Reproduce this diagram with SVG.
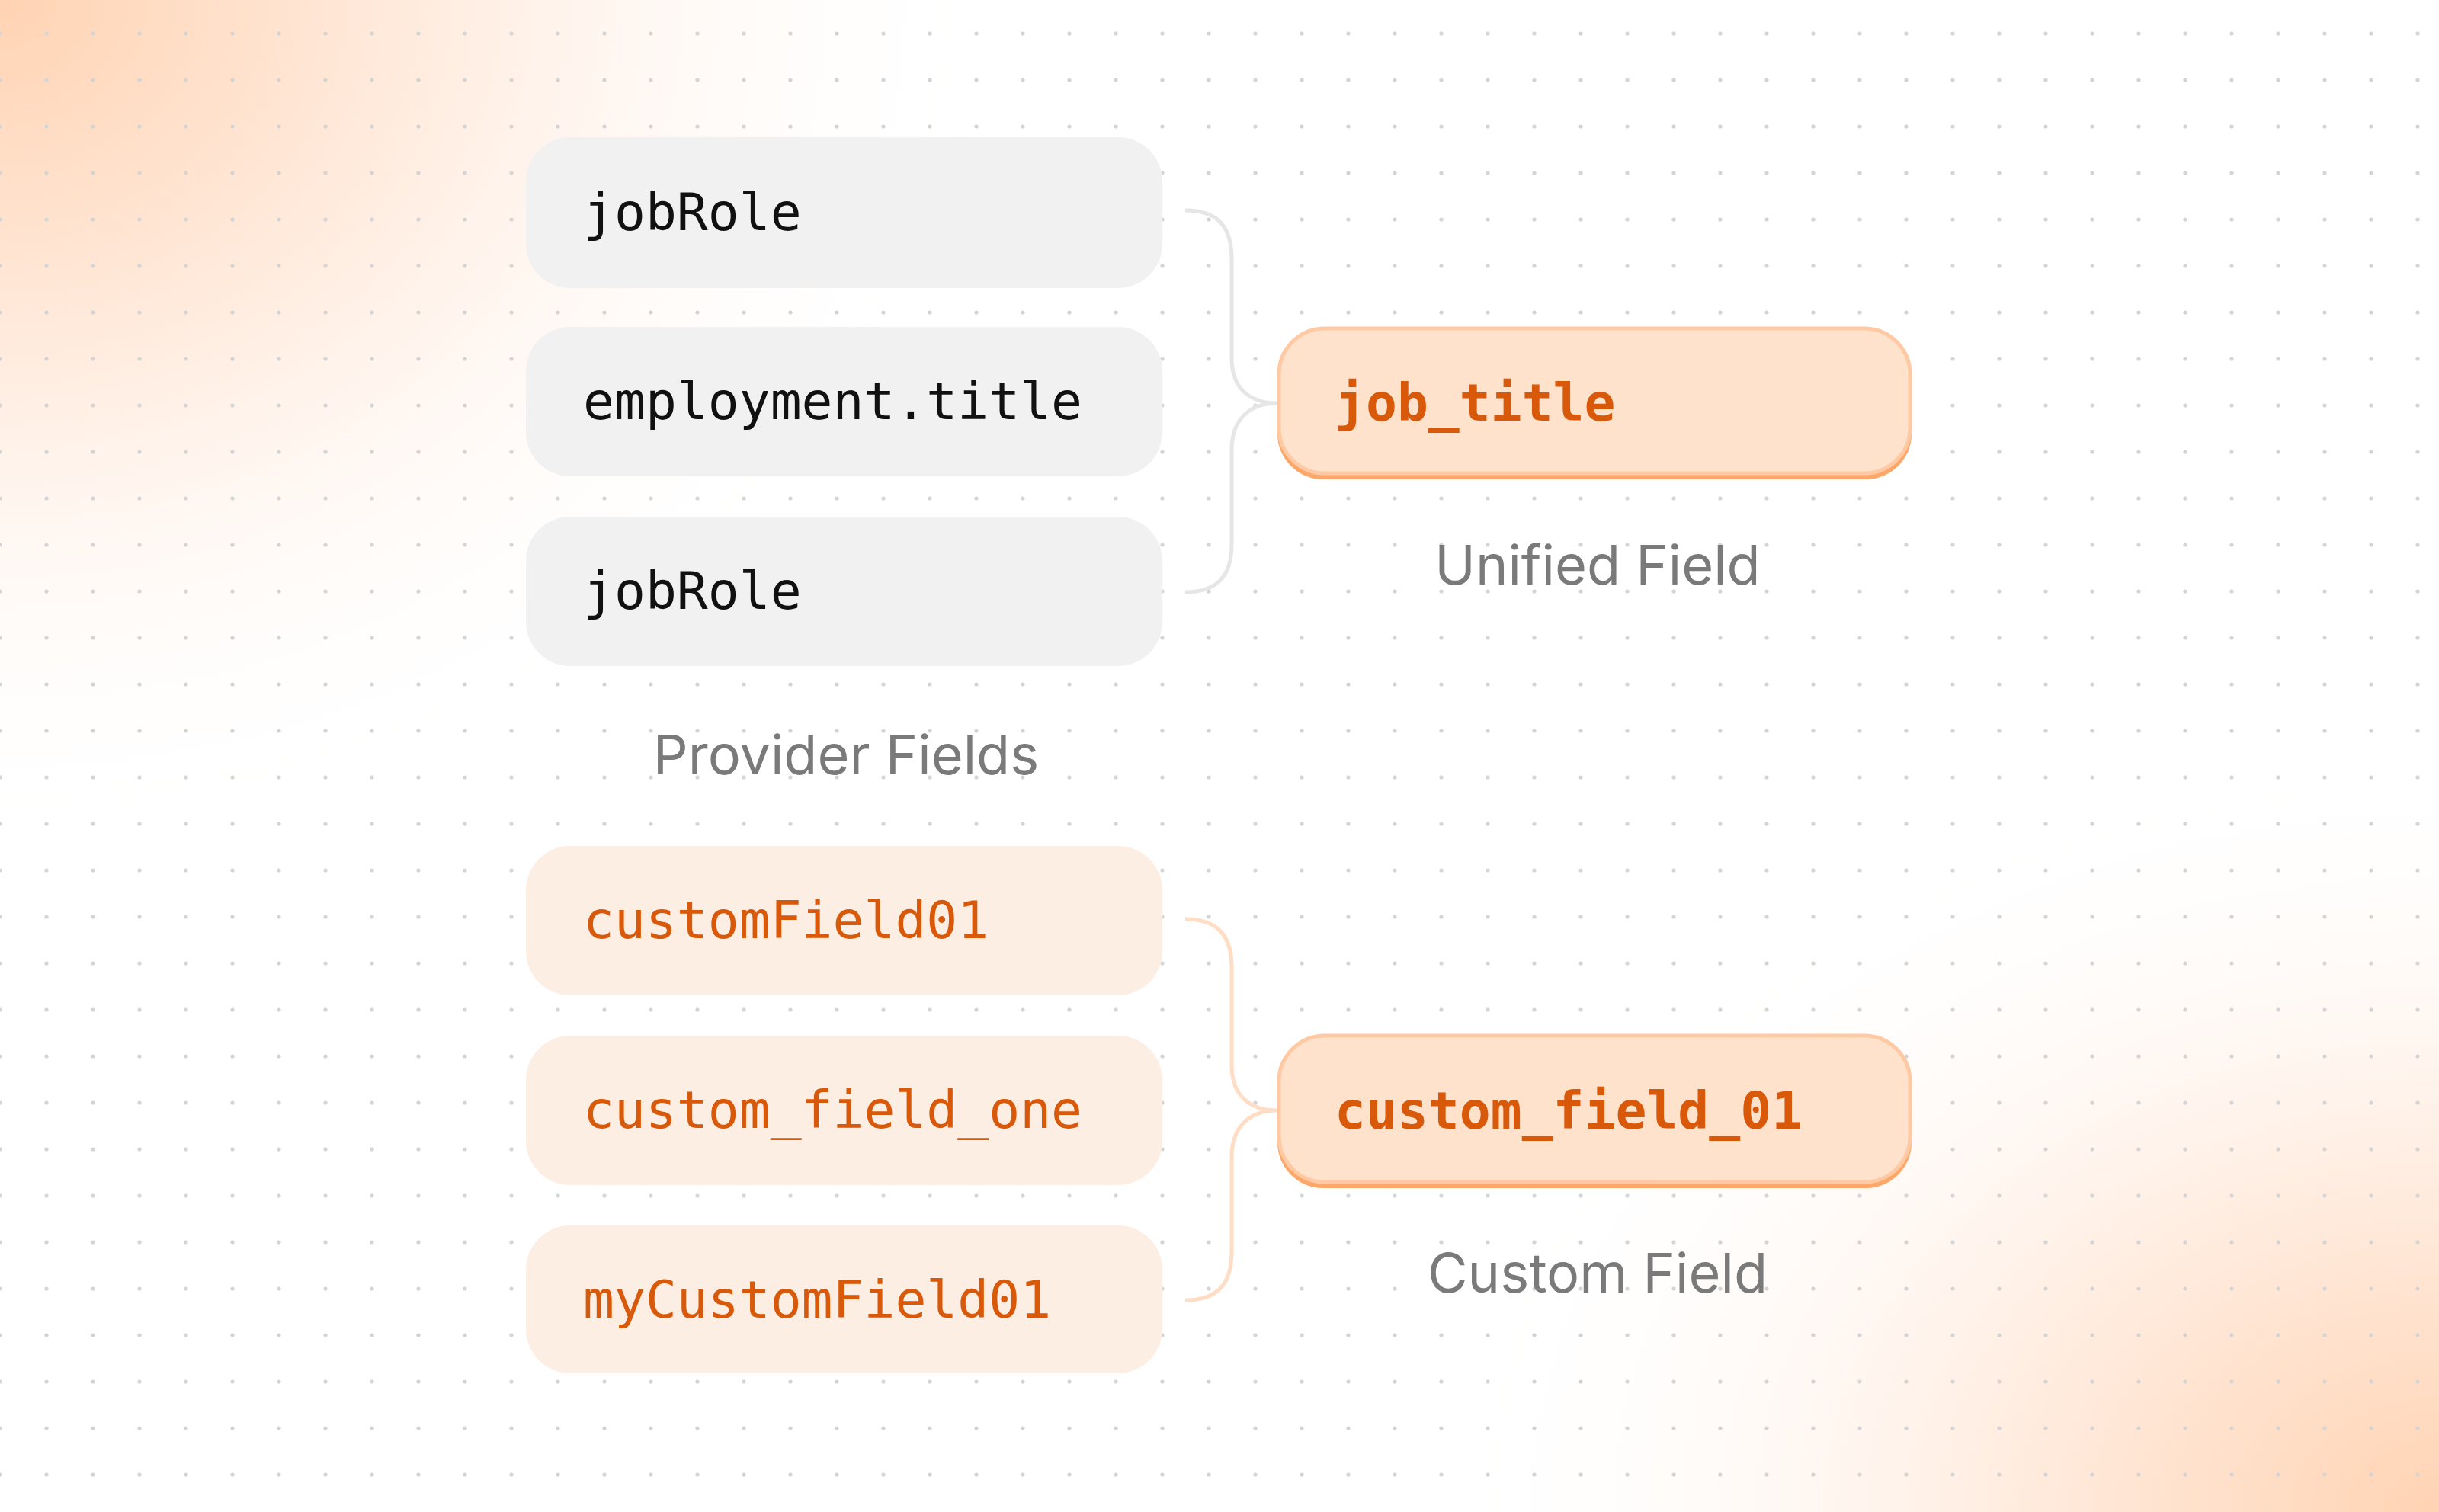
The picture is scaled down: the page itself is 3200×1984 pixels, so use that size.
<svg xmlns="http://www.w3.org/2000/svg" width="3200" height="1984" viewBox="0 0 3200 1984">
<defs>
<radialGradient id="tl" cx="0" cy="0" r="1" gradientUnits="userSpaceOnUse" gradientTransform="translate(0 0) scale(1300 1100)">
<stop offset="0" stop-color="#ffd3b3"/><stop offset="0.5" stop-color="#fff0e6"/><stop offset="1" stop-color="#ffffff" stop-opacity="0"/>
</radialGradient>
<radialGradient id="br" cx="0" cy="0" r="1" gradientUnits="userSpaceOnUse" gradientTransform="translate(3200 1984) scale(1300 1000)">
<stop offset="0" stop-color="#ffd3b3"/><stop offset="0.5" stop-color="#fff0e6"/><stop offset="1" stop-color="#ffffff" stop-opacity="0"/>
</radialGradient>
<pattern id="dots" x="0" y="44" width="61" height="61" patternUnits="userSpaceOnUse">
<circle cx="0" cy="0" r="2.6" fill="#d4d4d4"/><circle cx="61" cy="0" r="2.6" fill="#d4d4d4"/><circle cx="0" cy="61" r="2.6" fill="#d4d4d4"/><circle cx="61" cy="61" r="2.6" fill="#d4d4d4"/>
</pattern>
</defs>
<style>
.mono{font-family:"DejaVu Sans Mono","Liberation Mono",monospace;font-size:68px}
.g{fill:#f1f1f1}
.o{fill:#fdeee3}
.dk{fill:#111111}
.or{fill:#d9590a}
.lbl{font-family:Inter,"Noto Sans",sans-serif;font-size:72px;fill:#7a7a7a;text-anchor:middle}
.con{fill:none;stroke-width:5}
</style>
<rect width="3200" height="1984" fill="#ffffff"/>
<rect width="3200" height="1984" fill="url(#tl)"/>
<rect width="3200" height="1984" fill="url(#br)"/>
<rect width="3200" height="1984" fill="url(#dots)"/>
<g id="connectors">
<path class="con" stroke="#e6e6e6" d="M1555 276 C1600 276 1616 300 1616 340 V470 C1616 510 1640 529 1676 529 M1555 777 C1600 777 1616 753 1616 713 V590 C1616 550 1640 529 1676 529"/>
<path class="con" stroke="#ffdcc4" d="M1555 1206 C1600 1206 1616 1230 1616 1270 V1398 C1616 1438 1640 1457 1676 1457 M1555 1706 C1600 1706 1616 1682 1616 1642 V1518 C1616 1478 1640 1457 1676 1457"/>
</g>
<g id="p1"><rect class="g" x="690" y="180" width="835" height="198" rx="58"/><text class="mono dk" x="765" y="302">jobRole</text></g>
<g id="p2"><rect class="g" x="690" y="429" width="835" height="196" rx="58"/><text class="mono dk" x="765" y="550">employment.title</text></g>
<g id="p3"><rect class="g" x="690" y="678" width="835" height="196" rx="58"/><text class="mono dk" x="765" y="799">jobRole</text></g>
<text class="lbl" x="1110" y="1016">Provider Fields</text>
<g id="c1"><rect class="o" x="690" y="1110" width="835" height="196" rx="58"/><text class="mono or" x="765" y="1231">customField01</text></g>
<g id="c2"><rect class="o" x="690" y="1359" width="835" height="196" rx="58"/><text class="mono or" x="765" y="1480">custom_field_one</text></g>
<g id="c3"><rect class="o" x="690" y="1608" width="835" height="194" rx="58"/><text class="mono or" x="765" y="1729">myCustomField01</text></g>
<g id="u1"><rect x="1676" y="438" width="832" height="191" rx="60" fill="#fda86a"/><rect x="1678" y="431" width="828" height="190" rx="60" fill="#ffe2cc" stroke="#ffc9a3" stroke-width="5"/><text class="mono or" x="1751" y="552" font-weight="bold">job_title</text></g>
<text class="lbl" x="2096" y="767">Unified Field</text>
<g id="u2"><rect x="1676" y="1366" width="832" height="193" rx="60" fill="#fda86a"/><rect x="1678" y="1359" width="828" height="192" rx="60" fill="#ffe2cc" stroke="#ffc9a3" stroke-width="5"/><text class="mono or" x="1751" y="1481" font-weight="bold">custom_field_01</text></g>
<text class="lbl" x="2096" y="1696">Custom Field</text>
</svg>
